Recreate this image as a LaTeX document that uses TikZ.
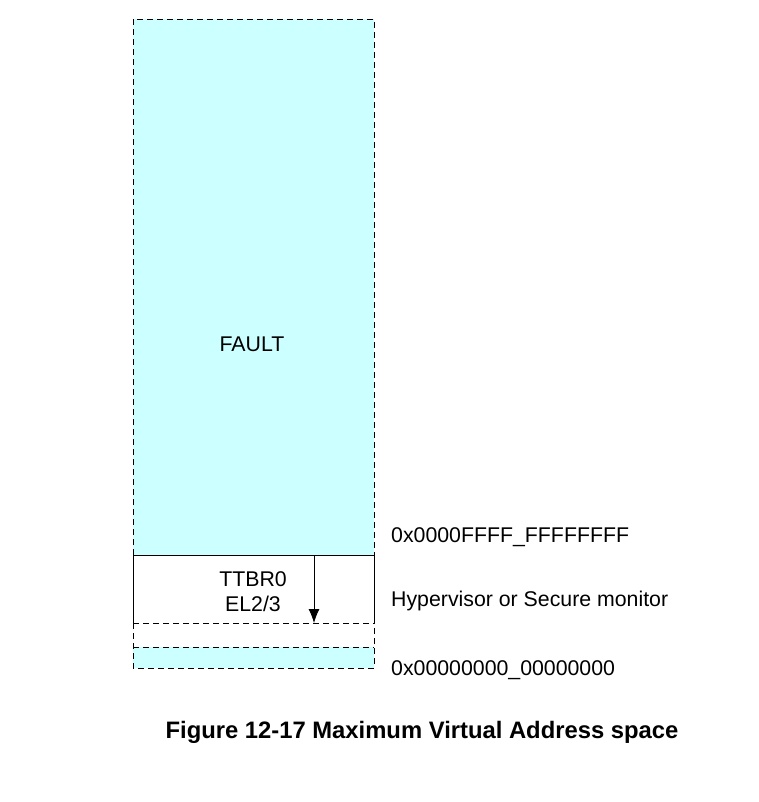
\documentclass[tikz,border=0pt]{standalone}
\usetikzlibrary{arrows.meta}
\usepackage{fontspec}
\setmainfont{Liberation Sans}
\definecolor{aqua}{RGB}{204,255,255}
\begin{document}
\begin{tikzpicture}[x=1pt,y=-1pt,
  dl/.style={draw=black,dashed,dash pattern=on 6pt off 4pt,line width=0.8pt},
  sl/.style={draw=black,line width=0.8pt},
  lbl/.style={font=\fontsize{21.3}{25}\selectfont,inner sep=0pt},
  rl/.style={lbl,anchor=west}]
\useasboundingbox (0,0) rectangle (758,802);
\fill[aqua] (133,19) rectangle (374,555);
\fill[aqua] (133,647) rectangle (374,668);
\draw[dl] (133,555) -- (133,19) -- (374,19) -- (374,555);
\draw[sl] (133,623) -- (133,555) -- (374,555) -- (374,623);
\draw[dl] (133,623) -- (133,668) -- (374,668) -- (374,623);
\draw[dl] (133,623) -- (374,623);
\draw[dl] (133,647) -- (374,647);
\coordinate (as) at (314,555);
\coordinate (ae) at (314,623);
\draw[sl,-{Latex[length=14pt,width=11pt]}] (as) -- (ae);
\node[lbl] (fault) at (252,344) {FAULT};
\node[lbl,align=center] (ttbr) at (253,592) {TTBR0\\EL2/3};
\node[rl] (top) at (391,537) {0x0000FFFF\_FFFFFFFF};
\node[rl] (hyp) at (391,601) {Hypervisor or Secure monitor};
\node[rl] (bot) at (391,670) {0x00000000\_00000000};
\node[lbl,font=\fontsize{23.8}{28}\selectfont\bfseries] (cap) at (422,732) {Figure 12-17 Maximum Virtual Address space};
\end{tikzpicture}
\end{document}
